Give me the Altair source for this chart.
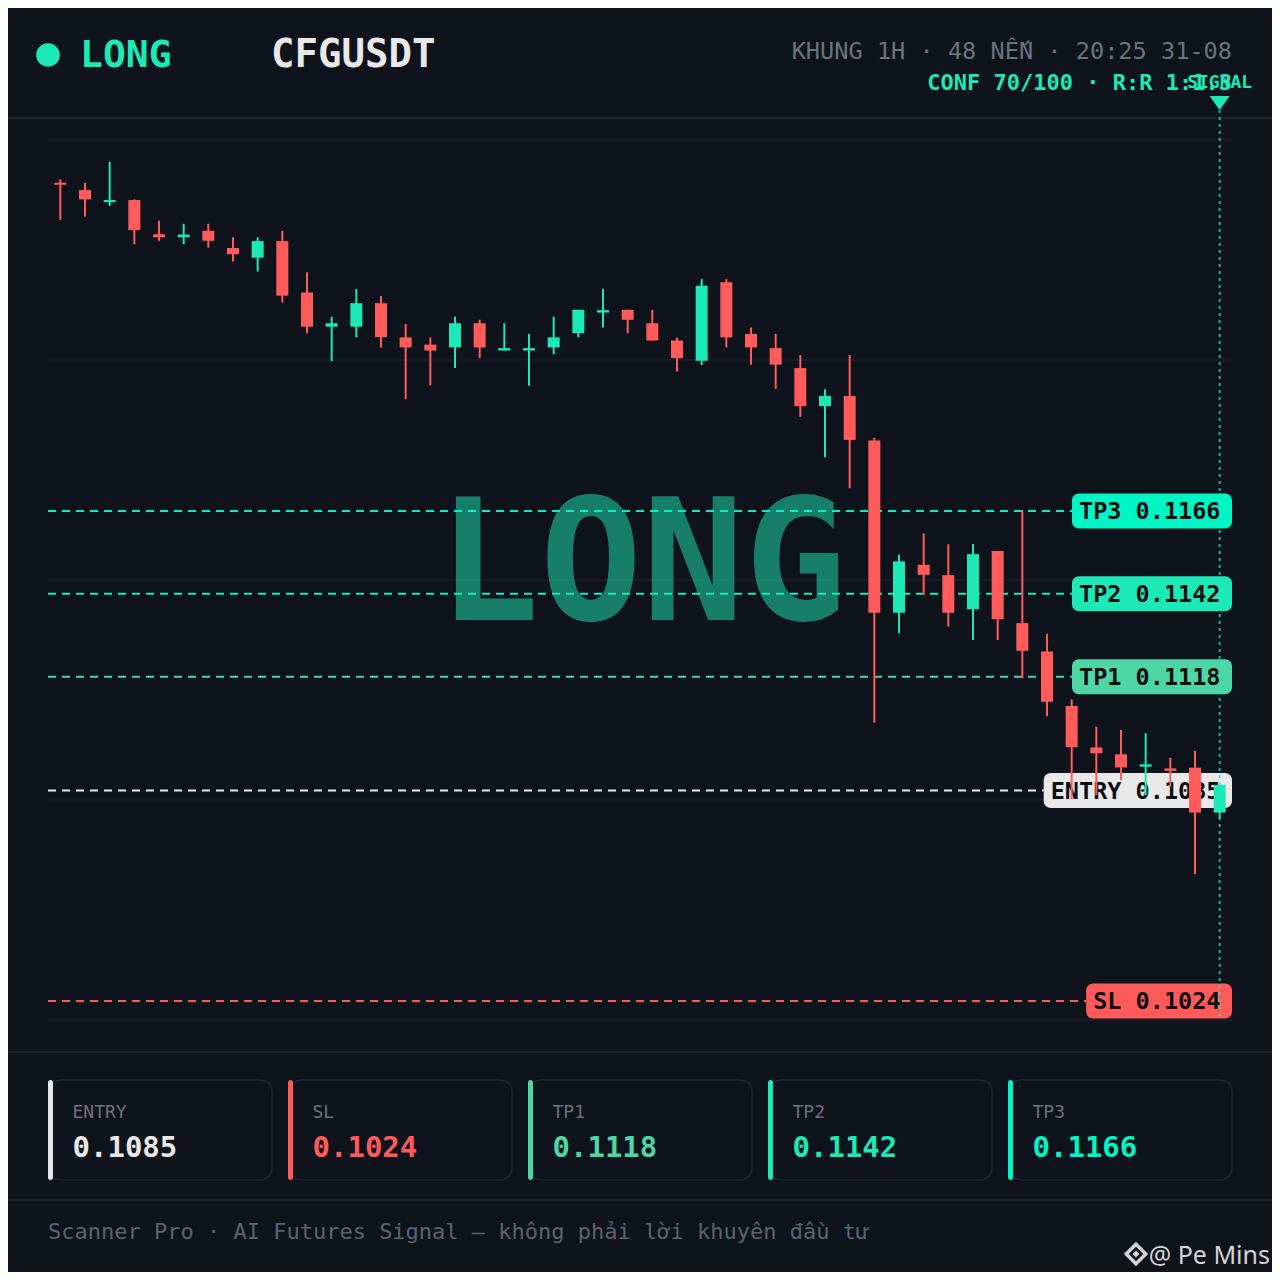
import altair as alt
import pandas as pd

# ---------------- data ----------------
opens = [0.12611, 0.12590, 0.12555, 0.12561, 0.12462, 0.12453, 0.12472, 0.12422, 0.12394, 0.12442,
         0.12293, 0.12194, 0.12194, 0.12262, 0.12163, 0.12142, 0.12134, 0.12204, 0.12125, 0.12125,
         0.12134, 0.12175, 0.12235, 0.12243, 0.12204, 0.12154, 0.12095, 0.12323, 0.12173, 0.12132,
         0.12074, 0.11964, 0.11993, 0.11864, 0.11365, 0.11504, 0.11474, 0.11375, 0.11544, 0.11335,
         0.11253, 0.11095, 0.10975, 0.10955, 0.10919, 0.10914, 0.10916, 0.10786]
highs = [0.12621, 0.12611, 0.12672, 0.12563, 0.12501, 0.12492, 0.12492, 0.12453, 0.12453, 0.12472,
         0.12352, 0.12223, 0.12303, 0.12283, 0.12202, 0.12163, 0.12223, 0.12214, 0.12204, 0.12173,
         0.12223, 0.12243, 0.12303, 0.12243, 0.12243, 0.12163, 0.12332, 0.12332, 0.12192, 0.12173,
         0.12112, 0.12013, 0.12112, 0.11872, 0.11533, 0.11595, 0.11564, 0.11564, 0.11544, 0.11663,
         0.11304, 0.11114, 0.11035, 0.11025, 0.11016, 0.10945, 0.10965, 0.10866]
lows = [0.12503, 0.12513, 0.12544, 0.12433, 0.12443, 0.12433, 0.12423, 0.12383, 0.12354, 0.12264,
        0.12175, 0.12094, 0.12163, 0.12134, 0.11984, 0.12024, 0.12074, 0.12103, 0.12124, 0.12023,
        0.12114, 0.12163, 0.12192, 0.12175, 0.12154, 0.12064, 0.12083, 0.12134, 0.12084, 0.12014,
        0.11933, 0.11816, 0.11726, 0.11047, 0.11306, 0.11416, 0.11325, 0.11286, 0.11286, 0.11175,
        0.11066, 0.10825, 0.10837, 0.10880, 0.10837, 0.10861, 0.10608, 0.10769]
closes = [0.12605, 0.12563, 0.12561, 0.12474, 0.12453, 0.12461, 0.12443, 0.12404, 0.12442, 0.12284,
          0.12194, 0.12204, 0.12262, 0.12164, 0.12134, 0.12125, 0.12204, 0.12134, 0.12132, 0.12132,
          0.12163, 0.12243, 0.12242, 0.12214, 0.12154, 0.12103, 0.12313, 0.12163, 0.12134, 0.12084,
          0.11964, 0.11993, 0.11866, 0.11365, 0.11514, 0.11475, 0.11365, 0.11535, 0.11346, 0.11255,
          0.11107, 0.10975, 0.10958, 0.10917, 0.10926, 0.10907, 0.10786, 0.10866]

level_names = ["TP3", "TP2", "TP1", "ENTRY", "SL"]
level_prices = [0.1166, 0.1142, 0.1118, 0.1085, 0.1024]
level_colors = ["#00f5c4", "#1de9b6", "#4fd6a5", "#e8e8e8", "#ff5a5a"]

card_names = ["ENTRY", "SL", "TP1", "TP2", "TP3"]
card_values = ["0.1085", "0.1024", "0.1118", "0.1142", "0.1166"]
card_colors = ["#e8e8e8", "#ff5a5a", "#4fd6a5", "#1de9b6", "#00f5c4"]

side = "LONG"
symbol = "CFGUSDT"
meta_line = "KHUNG 1H · 48 NẾN · 20:25 31-08"
conf_line = "CONF 70/100 · R:R 1:1.3"
signal_label = "SIGNAL"
footer = "Scanner Pro · AI Futures Signal — không phải lời khuyên đầu tư"
credit = "@ Pe Mins"

y_domain = [0.10185, 0.12735]
grid_vals = [0.10185, 0.108225, 0.1146, 0.120975, 0.12735]

# ---------------- style ----------------
BG = "#0f131b"
GRID = "#1b212d"
SEP = "#1c2230"
GREEN = "#1de9b6"
RED = "#ff5b5b"
MONO = "DejaVu Sans Mono"
W, H = 1184, 880
OX, OY = 48, 140  # plot origin on the page (for layout constants)

N = len(opens)
yscale = alt.Scale(domain=y_domain, nice=False, zero=False)
xscale = alt.Scale(domain=[-0.5, N - 0.5], nice=False, zero=False, padding=0)


def PX(f):
    return alt.X(f, type="quantitative", scale=None, axis=None)


def PY(f):
    return alt.Y(f, type="quantitative", scale=None, axis=None)


def XI(f):
    return alt.X(f, type="quantitative", scale=xscale, axis=None)


def YP(f):
    return alt.Y(f, type="quantitative", scale=yscale, axis=None)


def text_layer(texts, xs, ys, color, size, weight="normal", align="left", font=MONO, opacity=1.0):
    df = pd.DataFrame({"t": texts, "px": xs, "py": ys})
    return alt.Chart(df).mark_text(
        font=font, fontSize=size, fontWeight=weight, align=align,
        baseline="alphabetic", color=color, opacity=opacity
    ).encode(x=PX("px"), y=PY("py"), text="t:N")


candles = pd.DataFrame({
    "i": list(range(N)), "open": opens, "high": highs, "low": lows, "close": closes,
})
candles["col"] = [GREEN if c >= o else RED for o, c in zip(opens, closes)]

# grid
grid = alt.Chart(pd.DataFrame({"p": grid_vals})).mark_rule(color=GRID, strokeWidth=1.5).encode(
    y=YP("p"), x=alt.value(0), x2=alt.value(W))

# separators
seps = alt.Chart(pd.DataFrame({"py": [118 - OY, 1052 - OY, 1200 - OY]})).mark_rule(
    color=SEP, strokeWidth=2).encode(y=PY("py"), x=alt.value(-OX), x2=alt.value(1232))

# watermark
water = text_layer([side], [642 - OX], [620 - OY], GREEN, 170, "bold", "center", opacity=0.5)

# levels
lv = pd.DataFrame({"name": level_names, "price": level_prices, "color": level_colors})
lv["label"] = [f"{n} {p:.4f}" for n, p in zip(level_names, level_prices)]
lv["w"] = [len(s) * 14.15 + 18.5 for s in lv["label"]]
lv["px"] = W - lv["w"]
lv["pxe"] = float(W)
lv["x0"] = 0.0
lv["tx"] = lv["px"] + 7
half = 17.5 * (y_domain[1] - y_domain[0]) / H
lv["lo"] = lv["price"] - half
lv["hi"] = lv["price"] + half

level_lines = alt.Chart(lv).mark_rule(strokeDash=[8, 6], strokeWidth=2).encode(
    y=YP("price"), x=PX("x0"), x2="px:Q", color=alt.Color("color:N", scale=None))
pills = alt.Chart(lv).mark_rect(cornerRadius=7).encode(
    x=PX("px"), x2="pxe:Q", y=YP("lo"), y2="hi:Q", color=alt.Color("color:N", scale=None))
pill_text = alt.Chart(lv).mark_text(
    font=MONO, fontSize=23.5, fontWeight="bold", align="left", baseline="middle",
    color="#0b0f14", dy=1).encode(x=PX("tx"), y=YP("price"), text="label:N")

# signal marker
sig_df = pd.DataFrame({"i": [N - 1], "t": [signal_label]})
sig_line = alt.Chart(sig_df).mark_rule(color=GREEN, strokeDash=[3, 4], strokeWidth=2, opacity=0.75).encode(
    x=XI("i"), y=alt.value(110 - OY), y2=alt.value(H))
sig_tri = alt.Chart(sig_df).mark_point(
    shape="M-1,-0.7L1,-0.7L0,0.7Z", filled=True, size=400, color=GREEN, opacity=1).encode(
    x=XI("i"), y=alt.value(103 - OY))
sig_text = alt.Chart(sig_df).mark_text(
    font=MONO, fontSize=18, fontWeight="bold", align="center", baseline="alphabetic", color=GREEN).encode(
    x=XI("i"), y=alt.value(88 - OY), text="t:N")

# candles
wicks = alt.Chart(candles).mark_rule(strokeWidth=2).encode(
    x=XI("i"), y=YP("low"), y2="high:Q", color=alt.Color("col:N", scale=None))
bodies = alt.Chart(candles).mark_bar(size=12).encode(
    x=XI("i"), y=YP("open"), y2="close:Q", color=alt.Color("col:N", scale=None))

# header
dot = alt.Chart(pd.DataFrame({"a": [0]})).mark_point(
    shape="circle", filled=True, size=560, color=GREEN, opacity=1).encode(
    x=alt.value(0), y=alt.value(55 - OY))
h_side = text_layer([side], [80 - OX], [67 - OY], GREEN, 38, "bold")
h_sym = text_layer([symbol], [271 - OX], [67 - OY], "#e8e8e8", 39, "bold")
h_meta = text_layer([meta_line], [1232 - OX], [59 - OY], "#6b7280", 23.6, "normal", "right")
h_conf = text_layer([conf_line], [1232 - OX], [90 - OY], GREEN, 22, "bold", "right")

# cards
cd = pd.DataFrame({"name": card_names, "value": card_values, "color": card_colors})
cd["x"] = [240.0 * k for k in range(len(cd))]
cd["x1"] = cd["x"] + 1
cd["x2"] = cd["x"] + 224
cd["xa2"] = cd["x"] + 5
cd["tx"] = cd["x"] + 24.5
cd["y1"] = 1080.0 - OY
cd["y2"] = 1180.0 - OY
cd["ly"] = 1118.0 - OY
cd["vy"] = 1157.0 - OY

card_box = alt.Chart(cd).mark_rect(cornerRadius=12, fill=BG, stroke="#1f2533", strokeWidth=1.5).encode(
    x=PX("x1"), x2="x2:Q", y=PY("y1"), y2="y2:Q")
card_bar = alt.Chart(cd).mark_rect(cornerRadius=3).encode(
    x=PX("x"), x2="xa2:Q", y=PY("y1"), y2="y2:Q", color=alt.Color("color:N", scale=None))
card_lab = alt.Chart(cd).mark_text(font=MONO, fontSize=18, align="left", baseline="alphabetic",
                                   color="#6b7280").encode(x=PX("tx"), y=PY("ly"), text="name:N")
card_val = alt.Chart(cd).mark_text(font=MONO, fontSize=29, fontWeight="bold", align="left",
                                   baseline="alphabetic").encode(
    x=PX("tx"), y=PY("vy"), text="value:N", color=alt.Color("color:N", scale=None))

# footer
foot = text_layer([footer], [48 - OX], [1239 - OY], "#5b6270", 22)
cred = text_layer([credit], [1270 - OX], [1264 - OY], "#d4d4d4", 25, "normal", "right", font="Noto Sans")
logo_df = pd.DataFrame({"a": [0]})
logo1 = alt.Chart(logo_df).mark_point(shape="diamond", filled=False, size=380, color="#d4d4d4",
                                      strokeWidth=3.5, opacity=1).encode(
    x=alt.value(1136 - OX), y=alt.value(1254 - OY))
logo2 = alt.Chart(logo_df).mark_point(shape="diamond", filled=True, size=50, color="#d4d4d4",
                                      opacity=1).encode(x=alt.value(1136 - OX), y=alt.value(1254 - OY))

chart = alt.layer(
    seps, grid, water, level_lines, pills, pill_text, sig_line, sig_tri, sig_text,
    wicks, bodies, dot, h_side, h_sym, h_meta, h_conf,
    card_box, card_bar, card_lab, card_val, foot, cred, logo1, logo2
).properties(
    width=W, height=H,
    padding={"left": 40, "top": 132, "right": 40, "bottom": 252},
    autosize=alt.AutoSizeParams(type="none"),
).configure(background=BG).configure_view(stroke=None)

chart.save("out.html", embed_options={"renderer": "svg", "actions": False})
